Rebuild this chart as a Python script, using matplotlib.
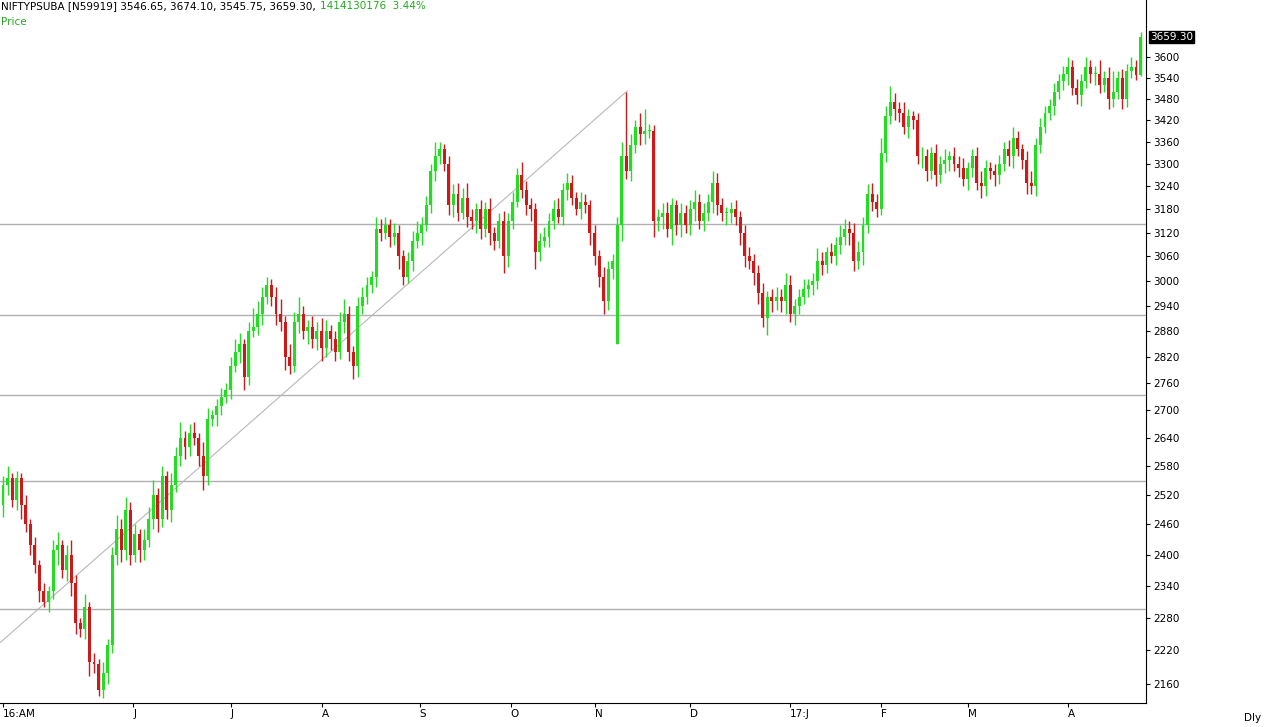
import numpy as np
import matplotlib.pyplot as plt
from matplotlib.ticker import FixedLocator, NullLocator

closes = [2540,2555,2510,2555,2500,2460,2420,2380,2330,2310,
2330,2410,2420,2370,2400,2345,2270,2260,2300,2200,
2195,2150,2180,2230,2400,2450,2410,2490,2400,2440,
2410,2430,2470,2520,2470,2560,2490,2540,2600,2640,
2620,2650,2640,2600,2560,2680,2690,2710,2730,2745,
2800,2830,2850,2775,2880,2890,2920,2960,2990,2960,
2920,2900,2820,2800,2900,2920,2880,2890,2860,2880,
2840,2880,2860,2830,2900,2920,2830,2800,2940,2960,
2990,3010,3130,3120,3140,3110,3120,3060,3010,3050,
3100,3120,3140,3190,3280,3320,3340,3300,3190,3220,
3170,3210,3160,3150,3180,3130,3180,3120,3100,3150,
3060,3150,3200,3270,3230,3190,3180,3070,3100,3110,
3150,3180,3160,3230,3250,3210,3180,3200,3190,3120,
3060,3010,2950,3030,3050,3140,3320,3280,3350,3400,
3380,3390,3390,3150,3160,3170,3130,3190,3140,3170,
3140,3180,3200,3150,3170,3200,3250,3190,3170,3170,
3180,3160,3120,3060,3050,3020,2970,2910,2960,2950,
2960,2950,2990,2920,2940,2960,2980,2990,3000,3050,
3040,3070,3060,3090,3110,3130,3120,3050,3070,3140,
3220,3200,3180,3330,3430,3470,3450,3440,3400,3430,
3420,3320,3320,3280,3330,3270,3300,3310,3320,3300,
3290,3260,3290,3320,3250,3240,3290,3280,3270,3300,
3340,3320,3370,3340,3310,3250,3240,3350,3400,3440,
3460,3500,3530,3550,3570,3510,3490,3530,3570,3550,
3550,3520,3540,3480,3500,3540,3480,3560,3570,3547,
3659.30]

opens = [2500,2540,2555,2510,2555,2500,2460,2420,2380,2330,
2310,2330,2410,2420,2370,2400,2345,2270,2260,2300,
2200,2195,2150,2180,2230,2400,2450,2410,2490,2400,
2440,2410,2430,2470,2520,2470,2560,2490,2540,2600,
2640,2620,2650,2640,2600,2560,2680,2690,2710,2730,
2745,2800,2830,2850,2775,2880,2890,2920,2960,2990,
2960,2920,2900,2820,2800,2900,2920,2880,2890,2860,
2880,2840,2880,2860,2830,2900,2920,2830,2800,2940,
2960,2990,3010,3130,3120,3140,3110,3120,3060,3010,
3050,3100,3120,3140,3190,3280,3320,3340,3300,3190,
3220,3170,3210,3160,3150,3180,3130,3180,3120,3100,
3150,3060,3150,3200,3270,3230,3190,3180,3070,3100,
3110,3150,3180,3160,3230,3250,3210,3180,3200,3190,
3120,3060,3010,2950,3030,2850,3140,3320,3280,3350,
3400,3380,3390,3390,3150,3160,3170,3130,3190,3140,
3170,3140,3180,3200,3150,3170,3200,3250,3190,3170,
3170,3180,3160,3120,3060,3050,3020,2970,2910,2960,
2950,2960,2950,2990,2920,2940,2960,2980,2990,3000,
3050,3040,3070,3060,3090,3110,3130,3120,3050,3070,
3140,3220,3200,3180,3330,3430,3470,3450,3440,3400,
3430,3420,3320,3320,3280,3330,3270,3300,3310,3320,
3300,3290,3260,3290,3320,3250,3240,3290,3280,3270,
3300,3340,3320,3370,3340,3310,3250,3240,3350,3400,
3440,3460,3500,3530,3550,3570,3510,3490,3530,3570,
3550,3550,3520,3540,3480,3500,3540,3480,3560,3570,
3546.65]

# wick lengths above / below the body (points)
wick_up = [20,25,10,15,10,20,10,15,10,15,
10,20,25,10,20,30,15,10,25,10,
15,10,20,10,15,30,20,25,15,20,
10,20,25,30,15,20,10,25,20,35,
15,20,25,10,30,25,10,15,20,15,
20,30,25,10,20,45,30,25,20,15,
25,35,15,30,25,40,20,15,25,20,
30,25,15,20,25,35,20,15,20,25,
20,15,30,25,20,15,25,20,15,20,
25,30,20,25,20,40,20,15,20,25,
30,25,40,20,15,25,20,30,15,20,
25,20,25,20,35,25,20,15,20,25,
20,25,30,20,25,20,15,25,20,15,
20,15,25,20,15,20,40,180,30,20,
40,60,20,15,20,25,30,20,15,25,
20,25,30,20,25,20,30,25,20,15,
20,25,15,20,25,15,20,25,15,20,
25,20,30,25,15,20,25,15,20,30,
20,15,25,20,30,25,20,25,30,20,
25,30,20,40,30,45,25,20,30,20,
15,20,25,20,15,25,20,30,15,25,
20,25,15,20,25,30,20,15,20,25,
20,25,30,20,15,25,30,20,25,20,
20,25,20,25,30,20,25,20,30,20,
25,40,20,30,60,20,25,20,30,20,
15]
wick_dn = [25,20,15,20,30,15,20,15,20,10,
20,15,30,15,20,25,20,15,20,25,
15,10,15,20,15,20,25,20,20,15,
25,20,15,20,25,15,20,25,15,20,
25,20,15,20,30,20,15,25,20,15,
20,15,25,30,20,15,20,25,15,20,
25,20,30,20,15,25,20,30,20,25,
30,20,25,20,15,25,20,30,25,20,
15,20,25,20,15,25,20,30,20,15,
25,20,30,15,20,25,20,20,25,30,
20,15,25,20,30,25,20,30,25,20,
40,25,20,15,20,25,30,40,20,15,
25,20,15,20,25,20,15,25,20,30,
20,25,30,20,25,0,40,20,25,20,
30,25,20,40,25,30,20,40,25,30,
20,25,30,20,25,20,30,25,20,30,
25,20,30,25,20,30,25,20,40,25,
20,25,30,20,25,20,15,20,25,20,
25,20,15,20,25,20,30,25,20,30,
20,25,20,15,25,20,30,25,20,30,
25,20,30,25,20,30,20,25,30,20,
25,20,30,25,20,30,25,20,30,25,
20,25,30,20,25,30,20,25,20,15,
20,25,20,25,30,20,25,30,20,25,
30,25,20,30,25,20,30,25,20,15,
0.9]

month_pos = [0, 28.6, 50, 70, 91.6, 111.6, 130, 151, 173, 193, 212, 234]
month_lab = ["16:AM", "J", "J", "A", "S", "O", "N", "D", "17:J", "F", "M", "A"]
price_ticks = [2160,2220,2280,2340,2400,2460,2520,2580,2640,2700,2760,2820,2880,
               2940,3000,3060,3120,3180,3240,3300,3360,3420,3480,3540,3600]
hlines = [3141, 2917, 2734, 2548, 2296]
trend_x = [-0.66, 137.2]
trend_y = [2234, 3502]

green = "#22dd22"
red = "#cc1a1a"

fig = plt.figure(figsize=(12.66, 7.27), dpi=100)
ax = fig.add_axes([0, 0.033, 1146/1266, 0.967])

for h in hlines:
    ax.axhline(h, color="#b0b0b0", lw=1, zorder=1)
ax.plot(trend_x, trend_y, color="#b8b8b8", lw=0.8, zorder=1)

for i in range(len(closes)):
    o, c = opens[i], closes[i]
    col = green if c >= o else red
    hi = max(o, c) + wick_up[i]
    lo = min(o, c) - wick_dn[i]
    if i == len(closes) - 1:
        hi, lo = 3674.10, 3545.75
    ax.vlines(i, lo, hi, color=col, lw=1, zorder=2)
    ax.bar(i, abs(c - o) if abs(c - o) > 2 else 2, bottom=min(o, c), width=0.65,
           color=col, zorder=3, linewidth=0)

ax.set_yscale("log")
ax.set_ylim(2127, 3771)
ax.set_xlim(-0.66, 251.2)
ax.yaxis.set_major_locator(FixedLocator(price_ticks))
ax.yaxis.set_minor_locator(NullLocator())
ax.set_yticklabels([str(p) for p in price_ticks])
ax.yaxis.tick_right()
ax.tick_params(axis="y", labelsize=7.5, length=3, pad=2)
ax.xaxis.set_major_locator(FixedLocator(month_pos))
ax.set_xticklabels(month_lab, ha="left")
ax.tick_params(axis="x", labelsize=7.5, length=3, pad=1)
for s in ["top", "left"]:
    ax.spines[s].set_visible(False)

ax.text(closes[-1], closes[-1], "", zorder=5)
ax.annotate("3659.30", xy=(1.0, closes[-1]), xycoords=("axes fraction", "data"),
            xytext=(3, 0), textcoords="offset points", va="center", ha="left",
            fontsize=7.5, color="white", bbox=dict(boxstyle="square,pad=0.1", fc="black", ec="black"))

fig.text(0.001, 0.999, "NIFTYPSUBA [N59919] 3546.65, 3674.10, 3545.75, 3659.30,", fontsize=7.5,
         va="top", ha="left", color="black")
fig.text(0.253, 0.999, "1414130176  3.44%", fontsize=7.5, va="top", ha="left", color="#22aa22")
fig.text(0.001, 0.977, "Price", fontsize=7.5, va="top", ha="left", color="#22aa22")
fig.text(0.983, 0.005, "Dly", fontsize=7.5, va="bottom", ha="left", color="black")

fig.savefig("out.png", dpi=100)
